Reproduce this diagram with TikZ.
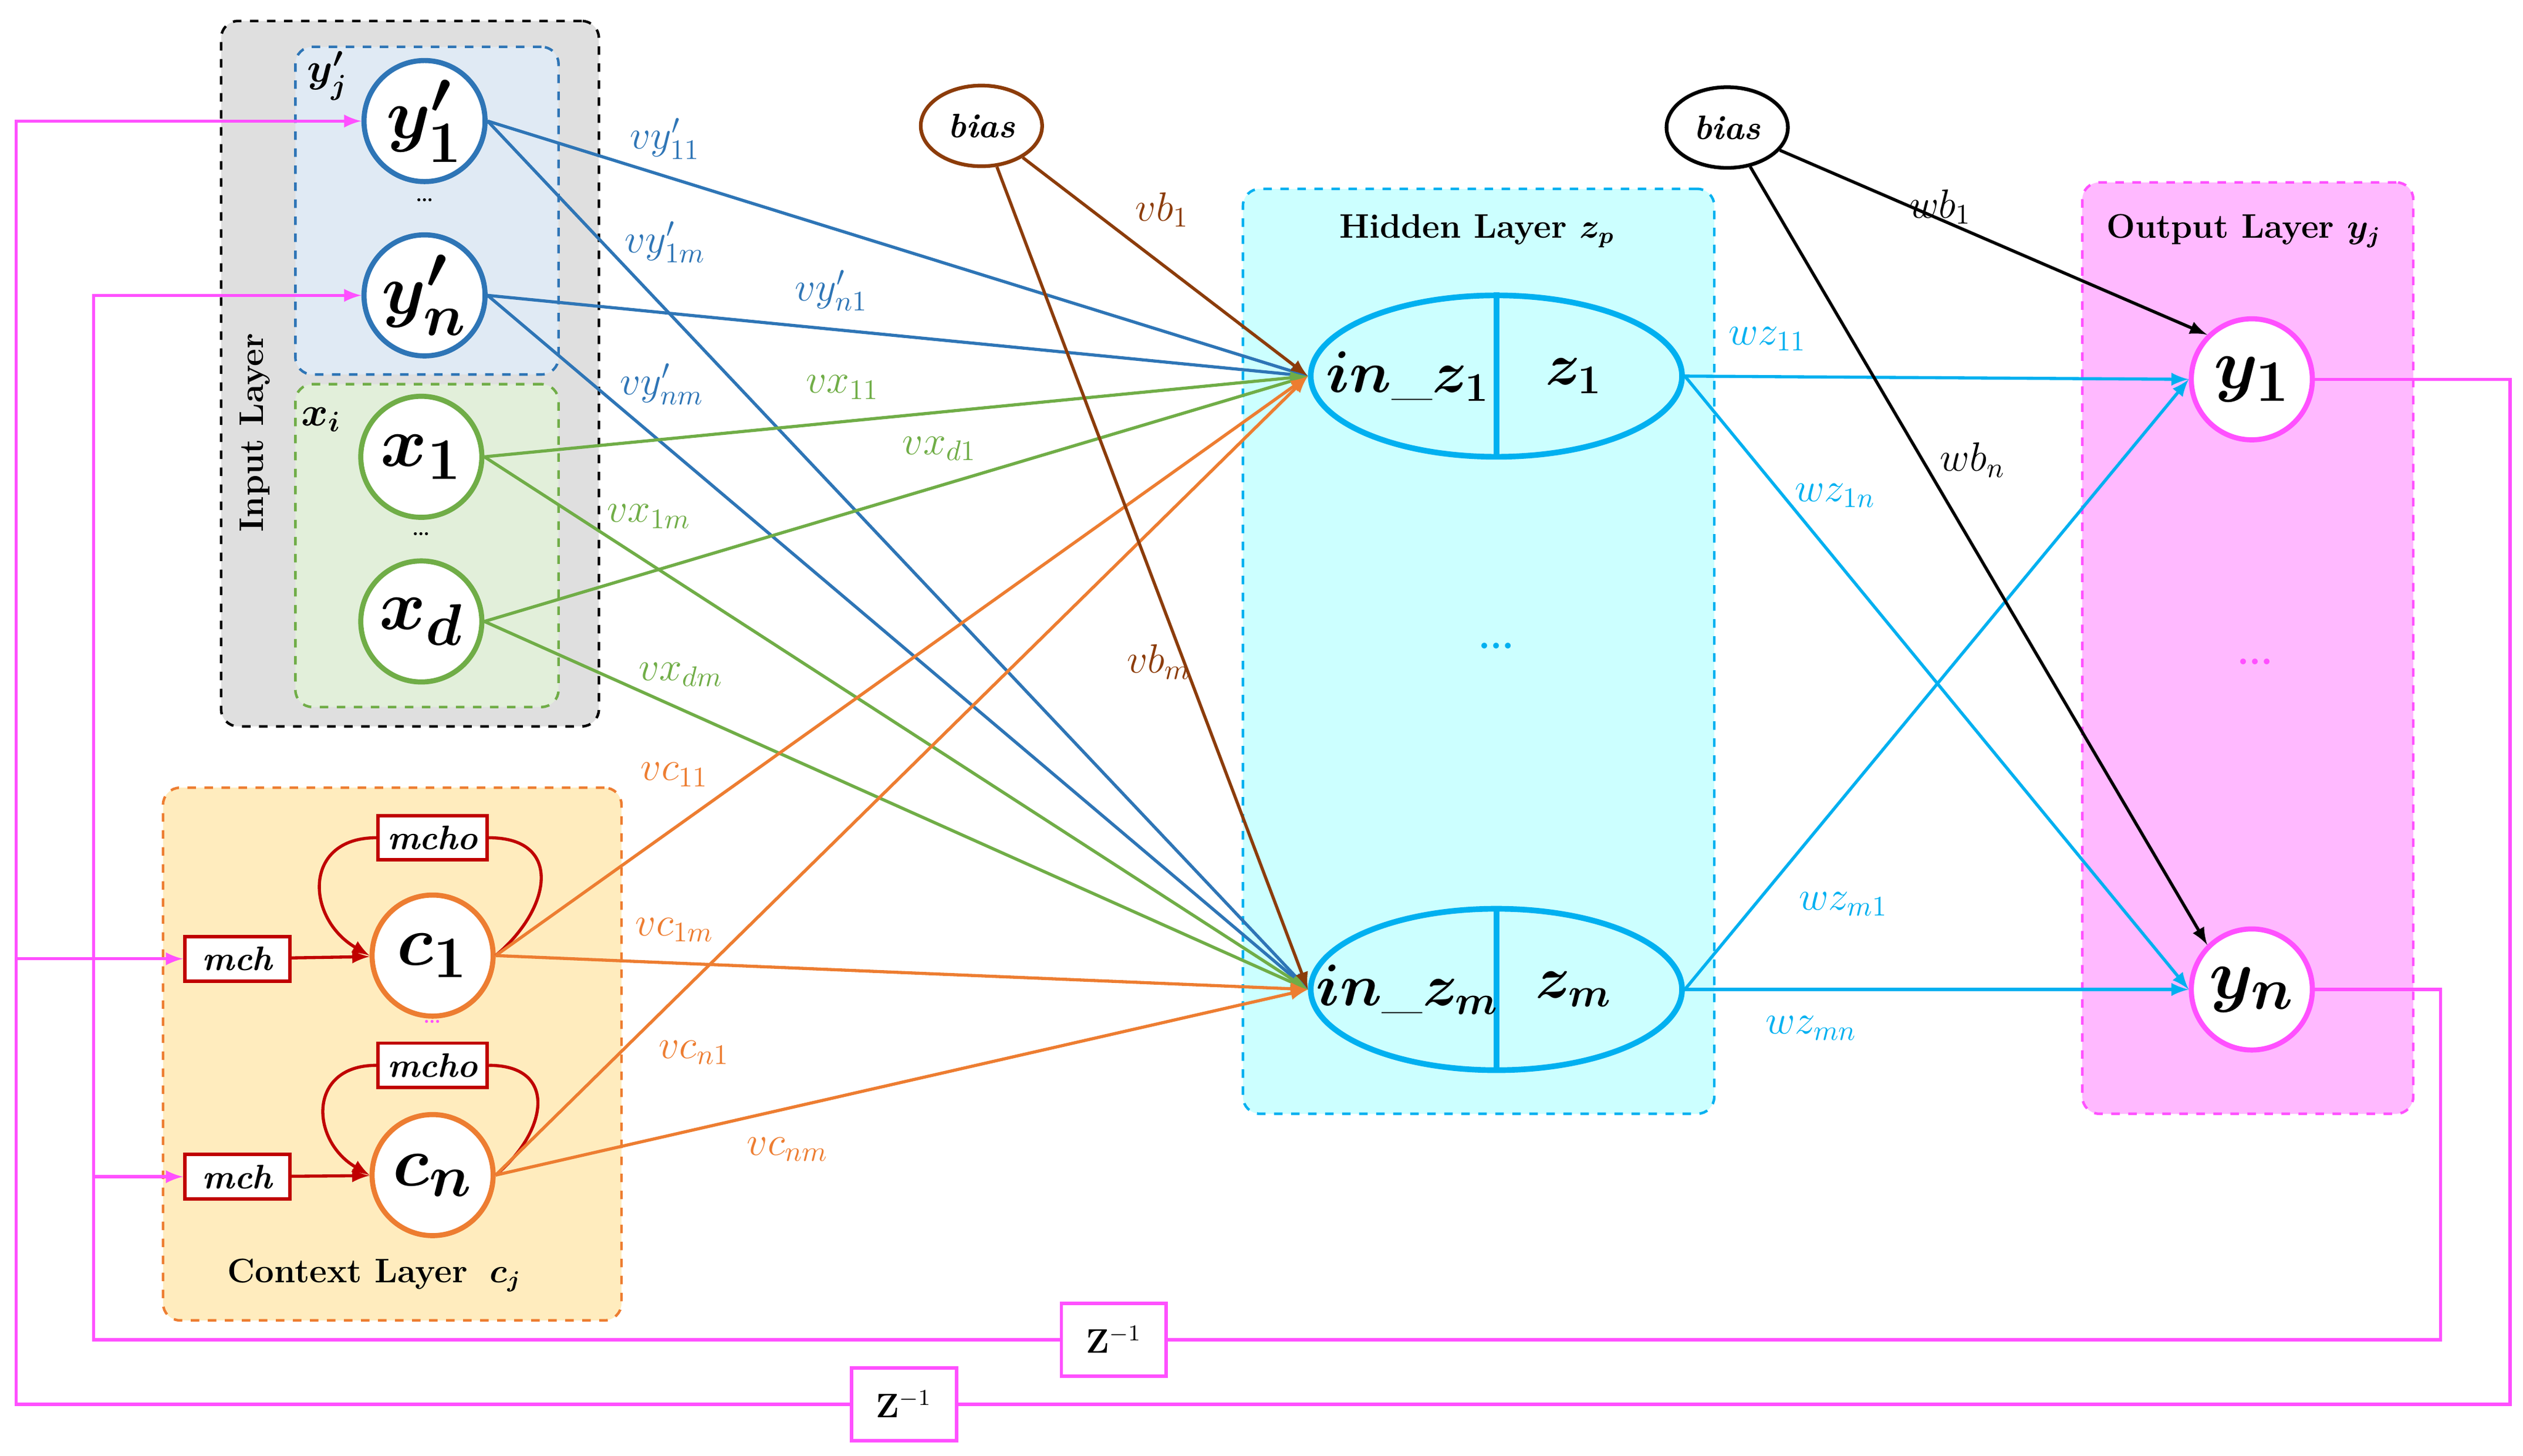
\documentclass[tikz,border=0pt]{standalone}
\usepackage{amsmath}
\usetikzlibrary{shapes,arrows,positioning,fit,backgrounds}
\definecolor{cblue}{RGB}{46,117,182}
\definecolor{cgreen}{RGB}{112,173,71}
\definecolor{corange}{RGB}{237,125,49}
\definecolor{cbrown}{RGB}{140,60,10}
\definecolor{ccyan}{RGB}{0,176,240}
\definecolor{cpink}{RGB}{255,80,255}
\definecolor{cred}{RGB}{192,0,0}
\definecolor{hfill}{RGB}{204,255,255}
\definecolor{cfill}{RGB}{255,236,190}
\begin{document}
\begin{tikzpicture}[
    x=0.2mm, y=-0.2mm,
    neuron/.style={circle, draw, line width=1.8pt, minimum size=15mm, inner sep=0pt, font=\Huge\boldmath},
    layer/.style={rectangle, draw, dashed, rounded corners=6pt, line width=0.9pt},
    tag/.style={rectangle, draw=cred, line width=1.2pt, fill=white, minimum width=13mm, minimum height=5.5mm, font=\large\itshape\bfseries},
    delay/.style={rectangle, draw=cpink, line width=1.2pt, fill=white, minimum width=13mm, minimum height=9mm, font=\large\bfseries},
    arrow/.style={-latex, line width=1.1pt},
    elabel/.style={font=\Large},
    feed/.style={cpink, line width=1.1pt}
]
\useasboundingbox (0,0) rectangle (1563,902);

% Layer boxes
\node[layer, fill=gray!25, minimum width=46.8mm, minimum height=87.4mm] (inbox) at (254,231.5) {};
\node[layer, draw=cblue, fill=cblue!15, minimum width=32.6mm, minimum height=40.6mm] (ybox) at (264.5,130.5) {};
\node[layer, draw=cgreen, fill=cgreen!20, minimum width=32.6mm, minimum height=40mm] (xbox) at (264.5,338) {};
\node[layer, draw=corange, fill=cfill, minimum width=56.8mm, minimum height=66mm] (cbox) at (243,653) {};
\node[layer, draw=ccyan, fill=hfill, minimum width=58.4mm, minimum height=114.6mm] (hbox) at (916,403.5) {};
\node[layer, draw=cpink, fill=cpink!40, minimum width=41mm, minimum height=115.4mm] (obox) at (1392.5,401.5) {};

\node[rotate=90, font=\large\bfseries] (inlab) at (158,268) {Input Layer};
\node[font=\large\bfseries] (htitle) at (915,143) {Hidden Layer $\boldsymbol{z_p}$};
\node[font=\large\bfseries] (otitle) at (1390,143) {Output Layer $\boldsymbol{y_j}$};
\node[font=\large\bfseries] (ctitle) at (232,790) {Context Layer $\;\boldsymbol{c_j}$};
\node[font=\Large\boldmath] (yjlab) at (203,47) {$y'_j$};
\node[font=\Large\boldmath] (xilab) at (199,260) {$x_i$};

% Input neurons
\node[neuron, draw=cblue, fill=white] (y1) at (263,75) {$y'_1$};
\node[neuron, draw=cblue, fill=white] (yn) at (263,183) {$y'_n$};
\node[neuron, draw=cgreen, fill=white] (x1) at (261,283) {$x_1$};
\node[neuron, draw=cgreen, fill=white] (xd) at (261,385) {$x_d$};
\node (ydots) at (263,124) {\dots};
\node (xdots) at (261,331) {\dots};

% Context neurons
\node[neuron, draw=corange, fill=white] (c1) at (268,592) {$c_1$};
\node[neuron, draw=corange, fill=white] (cn) at (268,728) {$c_n$};
\node[cpink] (cdots) at (268,633) {\dots};
\node[tag] (mcho1) at (268,519) {mcho};
\node[tag] (mcho2) at (268,660) {mcho};
\node[tag] (mch1) at (147,594) {mch};
\node[tag] (mch2) at (147,729) {mch};
\draw[arrow, cred] (mch1) -- (c1);
\draw[arrow, cred] (mch2) -- (cn);
\draw[cred, line width=1.1pt] (c1.east) to[out=40, in=0, looseness=1.6] (mcho1.east);
\draw[arrow, cred] (mcho1.west) to[out=180, in=150, looseness=1.6] (c1.west);
\draw[cred, line width=1.1pt] (cn.east) to[out=40, in=0, looseness=1.6] (mcho2.east);
\draw[arrow, cred] (mcho2.west) to[out=180, in=150, looseness=1.6] (cn.west);

% Hidden neurons
\foreach \name/\yy/\sub in {h1/233/1, hm/613/m} {
  \node[ellipse, draw=ccyan, line width=2pt, fill=hfill, minimum width=46mm, minimum height=20mm] (\name) at (927,\yy) {};
  \draw[ccyan, line width=2pt] (\name.north) -- (\name.south);
  \node[font=\huge\boldmath] at (872,\yy) {$in\_z_{\sub}$};
  \node[font=\huge\boldmath] at (975,\yy) {$z_{\sub}$};
}
\node[ccyan, font=\Huge] (hdots) at (927,400) {\dots};

% Output neurons
\node[neuron, draw=cpink, fill=white] (o1) at (1395,235) {$y_1$};
\node[neuron, draw=cpink, fill=white] (on) at (1395,613) {$y_n$};
\node[cpink, font=\Huge] (odots) at (1397,410) {\dots};

% Bias nodes
\node[ellipse, draw=cbrown, line width=1.3pt, fill=white, minimum width=15mm, minimum height=10mm, font=\large\itshape\bfseries] (b1) at (608,78) {bias};
\node[ellipse, draw=black, line width=1.3pt, fill=white, minimum width=15mm, minimum height=10mm, font=\large\itshape\bfseries] (b2) at (1070,79) {bias};

% Input to hidden
\foreach \src/\col in {y1/cblue, yn/cblue, x1/cgreen, xd/cgreen, c1/corange, cn/corange} {
  \draw[arrow, \col] (\src.east) -- (h1.west);
  \draw[arrow, \col] (\src.east) -- (hm.west);
}
\draw[arrow, cbrown] (b1) -- (h1.west);
\draw[arrow, cbrown] (b1) -- (hm.west);

% Hidden to output
\draw[arrow, ccyan] (h1.east) -- (o1.west);
\draw[arrow, ccyan] (h1.east) -- (on.west);
\draw[arrow, ccyan] (hm.east) -- (o1.west);
\draw[arrow, ccyan] (hm.east) -- (on.west);
\draw[arrow, black] (b2) -- (o1.north west);
\draw[arrow, black] (b2) -- (on.north west);

% Weight labels
\node[elabel, cblue] at (412,86) {$vy'_{11}$};
\node[elabel, cblue] at (412,150) {$vy'_{1m}$};
\node[elabel, cblue] at (515,180) {$vy'_{n1}$};
\node[elabel, cblue] at (410,238) {$vy'_{nm}$};
\node[elabel, cgreen] at (522,240) {$vx_{11}$};
\node[elabel, cgreen] at (582,278) {$vx_{d1}$};
\node[elabel, cgreen] at (402,320) {$vx_{1m}$};
\node[elabel, cgreen] at (422,418) {$vx_{dm}$};
\node[elabel, corange] at (418,480) {$vc_{11}$};
\node[elabel, corange] at (418,576) {$vc_{1m}$};
\node[elabel, corange] at (430,652) {$vc_{n1}$};
\node[elabel, corange] at (488,712) {$vc_{nm}$};
\node[elabel, cbrown] at (720,130) {$vb_1$};
\node[elabel, cbrown] at (718,410) {$vb_m$};
\node[elabel, ccyan] at (1095,210) {$wz_{11}$};
\node[elabel, ccyan] at (1137,307) {$wz_{1n}$};
\node[elabel, ccyan] at (1142,560) {$wz_{m1}$};
\node[elabel, ccyan] at (1122,637) {$wz_{mn}$};
\node[elabel] at (1202,128) {$wb_1$};
\node[elabel] at (1222,285) {$wb_n$};

% Feedback loops
\node[delay] (z1) at (690,830) {Z$^{-1}$};
\node[delay] (z2) at (560,870) {Z$^{-1}$};
\coordinate (fa) at (10,594);
\coordinate (fb) at (58,729);
\draw[feed] (o1.east) -- (1555,235) -- (1555,870) -- (z2.east);
\draw[feed, -latex] (z2.west) -- (10,870) -- (10,75) -- (y1.west);
\draw[feed, -latex] (fa) -- (mch1.west);
\draw[feed] (on.east) -- (1512,613) -- (1512,830) -- (z1.east);
\draw[feed, -latex] (z1.west) -- (58,830) -- (58,183) -- (yn.west);
\draw[feed, -latex] (fb) -- (mch2.west);
\end{tikzpicture}
\end{document}
